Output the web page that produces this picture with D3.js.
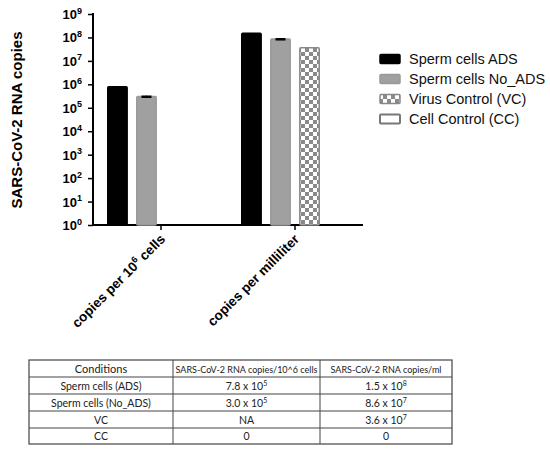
<!DOCTYPE html>
<html>
<head>
<meta charset="utf-8">
<script src="https://cdn.jsdelivr.net/npm/d3@7"></script>
<style>
  body { margin: 0; background: #fff; }
  svg { display: block; }
</style>
</head>
<body>
<div id="chart"></div>
<script>
const width = 550;
const height = 453;

// chart data
const groups = ["cells", "ml"];
const seriesNames = ["Sperm cells ADS", "Sperm cells No_ADS", "Virus Control (VC)", "Cell Control (CC)"];
const valuesPerCells = [7.8e5, 3.0e5, null, 0];
const valuesPerMl = [1.5e8, 8.6e7, 3.6e7, 0];
const errorsPerCells = [0, 0.25e5, 0, 0];
const errorsPerMl = [0, 0.6e7, 0, 0];
const yTickExps = [0, 1, 2, 3, 4, 5, 6, 7, 8, 9];

// table data
const tableHeader = ["Conditions", "SARS-CoV-2 RNA copies/10^6 cells", "SARS-CoV-2 RNA copies/ml"];
const tableConditions = ["Sperm cells (ADS)", "Sperm cells (No_ADS)", "VC", "CC"];
const tableCells = [["7.8 x 10", "5"], ["3.0 x 10", "5"], ["NA", ""], ["0", ""]];
const tableMl = [["1.5 x 10", "8"], ["8.6 x 10", "7"], ["3.6 x 10", "7"], ["0", ""]];

const svg = d3.select("#chart")
    .append("svg")
    .attr("width", width)
    .attr("height", height)
    .style("font-family", "'Liberation Sans', Arial, sans-serif");

// checker pattern for the virus control
const pat = svg.append("defs").append("pattern")
    .attr("id", "checker")
    .attr("width", 8).attr("height", 8)
    .attr("patternUnits", "userSpaceOnUse");
pat.append("rect").attr("width", 8).attr("height", 8).attr("fill", "#fff");
pat.append("rect").attr("width", 4).attr("height", 4).attr("fill", "#8a8a8a");
pat.append("rect").attr("x", 4).attr("y", 4).attr("width", 4).attr("height", 4).attr("fill", "#8a8a8a");

const fills = ["#000", "#a0a0a0", "url(#checker)", "#fff"];
const strokes = ["#000", "#999", "#888", "#777"];

const y = d3.scaleLog().domain([1, 1e9]).range([225, 14]);

const x0 = d3.scaleBand()
    .domain(groups)
    .range([94, 362])
    .paddingInner(0.194)
    .paddingOuter(0.097);

const x1 = d3.scaleBand()
    .domain(seriesNames)
    .range([0, x0.bandwidth()])
    .paddingInner(0.28);

const data = groups.map((g, gi) => ({
    group: g,
    bars: seriesNames.map((s, i) => ({
        name: s,
        i: i,
        value: gi === 0 ? valuesPerCells[i] : valuesPerMl[i],
        err: gi === 0 ? errorsPerCells[i] : errorsPerMl[i]
    })).filter(d => d.value)
}));

// y axis
const yAxis = svg.append("g")
    .attr("transform", "translate(93,0)")
    .call(d3.axisLeft(y).tickValues(yTickExps.map(e => Math.pow(10, e))).tickSize(5).tickFormat(""));
yAxis.select(".domain").attr("stroke-width", 2).attr("d", "M0,13V225");
yAxis.selectAll(".tick line").attr("stroke-width", 1.5);

const yLabels = svg.append("g").selectAll("text")
    .data(yTickExps)
    .join("text")
    .attr("x", 82)
    .attr("y", d => y(Math.pow(10, d)) + 5)
    .attr("text-anchor", "end")
    .attr("font-weight", "bold")
    .attr("font-size", 13);
yLabels.append("tspan").text("10");
yLabels.append("tspan").attr("dy", -5.5).attr("font-size", 9).text(d => d);

// x axis
const xAxis = svg.append("g")
    .attr("transform", "translate(0,225)")
    .call(d3.axisBottom(x0).tickSize(5).tickSizeOuter(0).tickFormat(""));
xAxis.select(".domain").attr("stroke-width", 2).attr("d", "M92,0H363");
xAxis.selectAll(".tick line").attr("stroke-width", 1.5);

// bars
const gGroups = svg.append("g").selectAll("g")
    .data(data)
    .join("g")
    .attr("transform", d => `translate(${x0(d.group)},0)`);

gGroups.selectAll("rect")
    .data(d => d.bars)
    .join("rect")
    .attr("x", d => x1(d.name) + 0.75)
    .attr("width", x1.bandwidth() - 1.5)
    .attr("y", d => y(d.value))
    .attr("height", d => y(1) - y(d.value))
    .attr("rx", 1)
    .attr("fill", d => fills[d.i])
    .attr("stroke", d => strokes[d.i])
    .attr("stroke-width", 1.5);

// error caps
const errs = gGroups.selectAll("g.err")
    .data(d => d.bars.filter(b => b.err > 0))
    .join("g")
    .attr("class", "err");
errs.append("line")
    .attr("x1", d => x1(d.name) + x1.bandwidth() / 2)
    .attr("x2", d => x1(d.name) + x1.bandwidth() / 2)
    .attr("y1", d => y(d.value))
    .attr("y2", d => y(d.value + d.err))
    .attr("stroke", "#000").attr("stroke-width", 1.5);
errs.append("line")
    .attr("x1", d => x1(d.name) + x1.bandwidth() / 2 - 5)
    .attr("x2", d => x1(d.name) + x1.bandwidth() / 2 + 5)
    .attr("y1", d => y(d.value + d.err) + 1)
    .attr("y2", d => y(d.value + d.err) + 1)
    .attr("stroke", "#000").attr("stroke-width", 2.5);

// rotated category labels
const xLab = svg.append("g").selectAll("text")
    .data(groups)
    .join("text")
    .attr("text-anchor", "end")
    .attr("font-weight", "bold")
    .attr("font-size", 13.5)
    .attr("transform", d => `translate(${x0(d) + x0.bandwidth() / 2 + 5},240) rotate(-45)`);
xLab.filter(d => d === "cells").each(function() {
    const t = d3.select(this);
    t.append("tspan").text("copies per 10");
    t.append("tspan").attr("dy", -5.5).attr("font-size", 9).text("6");
    t.append("tspan").attr("dy", 5.5).text(" cells");
});
xLab.filter(d => d === "ml").text("copies per milliliter");

// y title
svg.append("text")
    .attr("transform", "translate(22,120) rotate(-90)")
    .attr("text-anchor", "middle")
    .attr("font-weight", "bold")
    .attr("font-size", 15)
    .text("SARS-CoV-2 RNA copies");

// legend
const legend = svg.append("g").selectAll("g")
    .data(seriesNames)
    .join("g")
    .attr("transform", (d, i) => `translate(379,${59 + i * 20})`);
legend.append("rect")
    .attr("x", 1).attr("y", -4.5)
    .attr("width", 20).attr("height", 9)
    .attr("rx", 1)
    .attr("fill", (d, i) => fills[i])
    .attr("stroke", (d, i) => strokes[i])
    .attr("stroke-width", (d, i) => i === 3 ? 2 : 1.5);
legend.append("text")
    .attr("x", 30).attr("y", 5)
    .attr("font-size", 14.5)
    .attr("fill", "#111")
    .text(d => d);

// table
const colX = [29, 173, 320, 452];
const rowY = [360, 377, 394, 411, 428, 444];
const table = svg.append("g")
    .style("font-family", "Lato, 'Open Sans', sans-serif")
    .attr("fill", "#222");

table.append("rect")
    .attr("x", colX[0]).attr("y", rowY[0])
    .attr("width", colX[3] - colX[0]).attr("height", rowY[5] - rowY[0])
    .attr("fill", "none").attr("stroke", "#444").attr("stroke-width", 1.2);
table.selectAll("line.row")
    .data(rowY.slice(1, 5))
    .join("line")
    .attr("class", "row")
    .attr("x1", colX[0]).attr("x2", colX[3])
    .attr("y1", d => d).attr("y2", d => d)
    .attr("stroke", "#444").attr("stroke-width", 1);
table.selectAll("line.col")
    .data(colX.slice(1, 3))
    .join("line")
    .attr("class", "col")
    .attr("x1", d => d).attr("x2", d => d)
    .attr("y1", rowY[0]).attr("y2", rowY[5])
    .attr("stroke", "#444").attr("stroke-width", 1);

const colMid = i => (colX[i] + colX[i + 1]) / 2;
const rowMid = r => (rowY[r] + rowY[r + 1]) / 2 + 4;

table.selectAll("text.head")
    .data(tableHeader)
    .join("text")
    .attr("class", "head")
    .attr("x", (d, i) => colMid(i))
    .attr("y", rowMid(0))
    .attr("text-anchor", "middle")
    .attr("font-size", (d, i) => i === 0 ? 11 : 9)
    .text(d => d);

table.selectAll("text.cond")
    .data(tableConditions)
    .join("text")
    .attr("class", "cond")
    .attr("x", colMid(0))
    .attr("y", (d, i) => rowMid(i + 1))
    .attr("text-anchor", "middle")
    .attr("font-size", 10.5)
    .text(d => d);

[tableCells, tableMl].forEach((col, c) => {
    const t = table.selectAll("text.v" + c)
        .data(col)
        .join("text")
        .attr("class", "v" + c)
        .attr("x", colMid(c + 1))
        .attr("y", (d, i) => rowMid(i + 1))
        .attr("text-anchor", "middle")
        .attr("font-size", 10.5);
    t.append("tspan").text(d => d[0]);
    t.append("tspan").attr("dy", -4).attr("font-size", 7).text(d => d[1]);
});
</script>
</body>
</html>
